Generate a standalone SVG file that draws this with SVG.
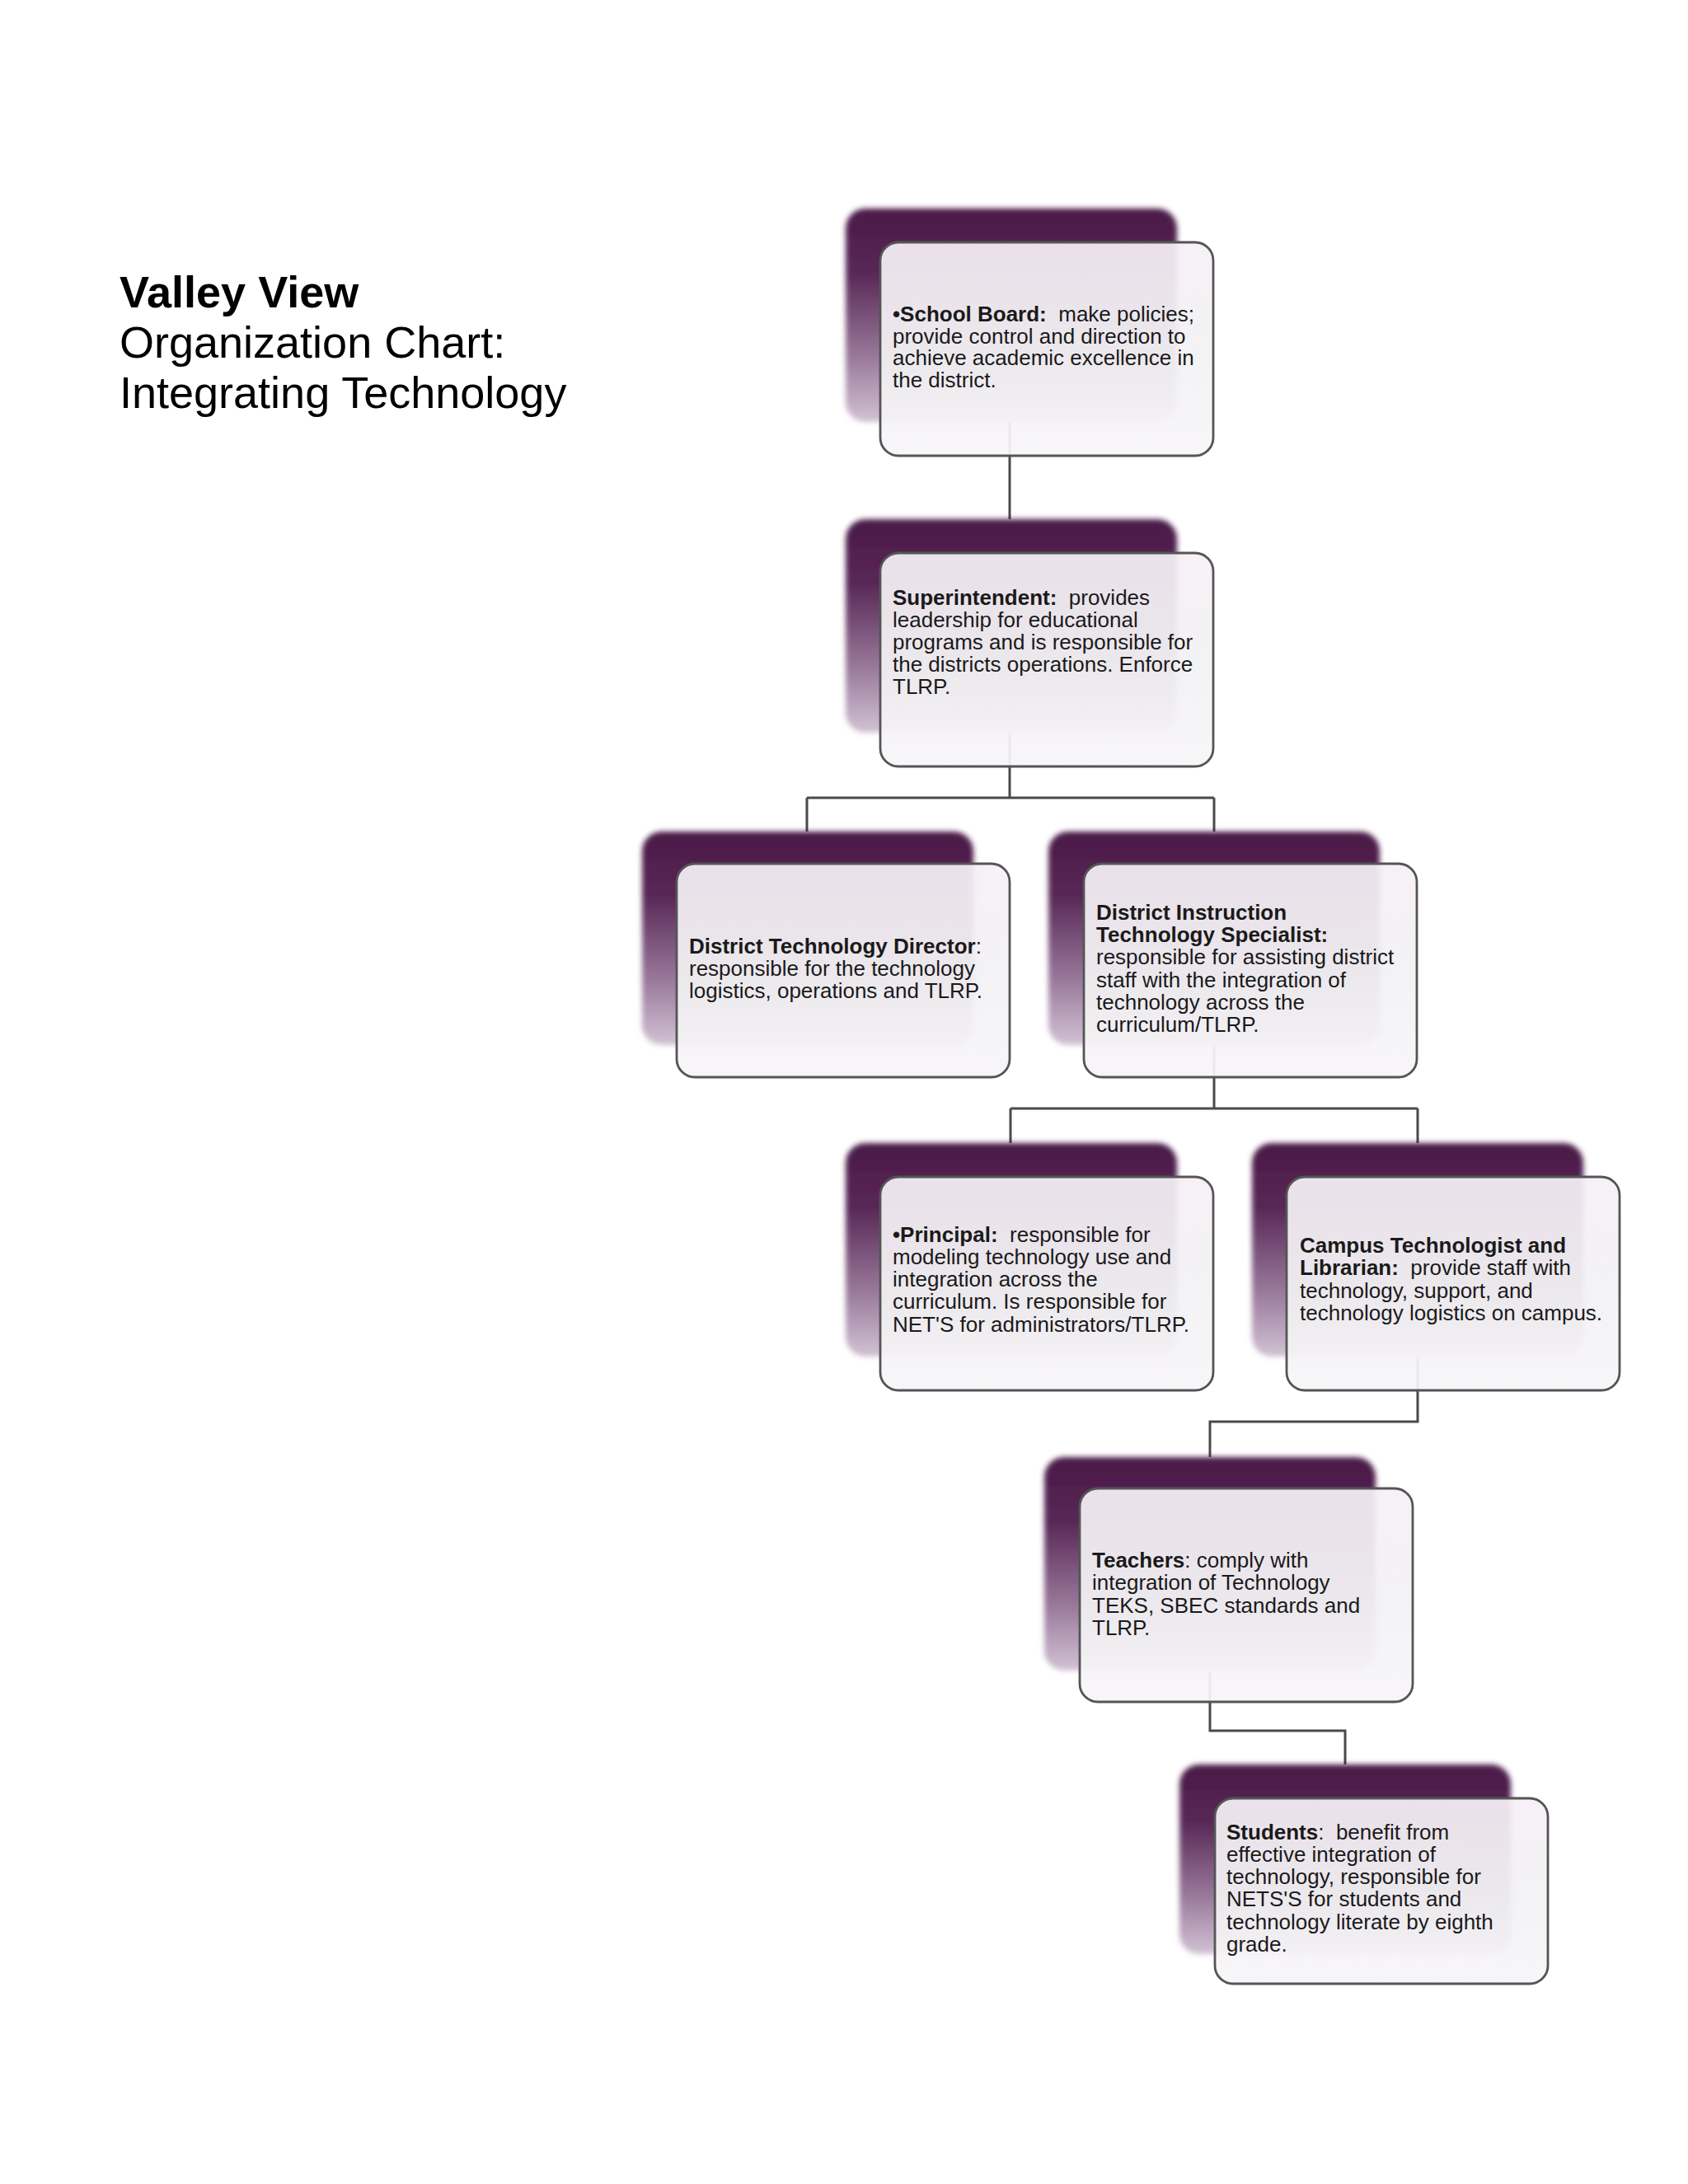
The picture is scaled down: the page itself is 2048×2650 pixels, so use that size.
<svg xmlns="http://www.w3.org/2000/svg" width="2048" height="2650" viewBox="0 0 2048 2650">
<defs>
<linearGradient id="backGrad" x1="0" y1="0" x2="0" y2="1">
<stop offset="0" stop-color="#4a1947"/>
<stop offset="0.3" stop-color="#582856"/>
<stop offset="0.7" stop-color="#9a7a9c"/>
<stop offset="1" stop-color="#d2c2d4"/>
</linearGradient>
<linearGradient id="frontGrad" x1="0" y1="0" x2="0" y2="1">
<stop offset="0" stop-color="#f6f0f6"/>
<stop offset="0.5" stop-color="#f2f1f3"/>
<stop offset="1" stop-color="#f7f5f8"/>
</linearGradient>
<filter id="soft" x="-10%" y="-10%" width="120%" height="120%">
<feGaussianBlur stdDeviation="3"/>
</filter>
</defs>
<style>
.back{fill:url(#backGrad);filter:url(#soft)}
.front{fill:url(#frontGrad);fill-opacity:0.93;stroke:#555555;stroke-width:2.8}
.t{font-family:"Liberation Sans",Arial,sans-serif;font-size:26px;fill:#1a1a1a;white-space:pre}
.b{font-weight:bold}
.title{font-family:"Liberation Sans",Arial,sans-serif;font-size:54px;fill:#000}
.conn{fill:none;stroke:#4a4a4a;stroke-width:3}
</style>
<rect width="2048" height="2650" fill="#ffffff"/>

<g id="title">
<text class="title" x="145" y="373" font-weight="bold">Valley View</text>
<text class="title" x="145" y="434">Organization Chart:</text>
<text class="title" x="145" y="495">Integrating Technology</text>
</g>

<g id="connectors">
<path class="conn" d="M1225 512 V630"/>
<path class="conn" d="M1225 889 V968 M979 968 H1473 M979 968 V1009 M1473 968 V1009"/>
<path class="conn" d="M1473 1268 V1345 M1226 1345 H1720 M1226 1345 V1387 M1720 1345 V1387"/>
<path class="conn" d="M1720 1646 V1725 H1468 V1768"/>
<path class="conn" d="M1468 2027 V2100 H1632 V2141"/>
</g>

<g id="school-board">
<rect class="back" x="1026" y="253" width="402" height="259" rx="24"/>
<rect class="front" x="1068" y="294" width="404" height="259" rx="22"/>
<text class="t" x="1083" y="390"><tspan class="b">•School Board:</tspan>  make policies;</text>
<text class="t" x="1083" y="417">provide control and direction to</text>
<text class="t" x="1083" y="443">achieve academic excellence in</text>
<text class="t" x="1083" y="470">the district.</text>
</g>

<g id="superintendent">
<rect class="back" x="1026" y="630" width="402" height="259" rx="24"/>
<rect class="front" x="1068" y="671" width="404" height="259" rx="22"/>
<text class="t" x="1083" y="734"><tspan class="b">Superintendent:</tspan>  provides</text>
<text class="t" x="1083" y="761">leadership for educational</text>
<text class="t" x="1083" y="788">programs and is responsible for</text>
<text class="t" x="1083" y="815">the districts operations. Enforce</text>
<text class="t" x="1083" y="842">TLRP.</text>
</g>

<g id="district-technology-director">
<rect class="back" x="779" y="1009" width="402" height="259" rx="24"/>
<rect class="front" x="821" y="1048" width="404" height="259" rx="22"/>
<text class="t" x="836" y="1157"><tspan class="b">District Technology Director</tspan>:</text>
<text class="t" x="836" y="1184">responsible for the technology</text>
<text class="t" x="836" y="1211">logistics, operations and TLRP.</text>
</g>

<g id="district-instruction-technology-specialist">
<rect class="back" x="1272" y="1009" width="402" height="259" rx="24"/>
<rect class="front" x="1315" y="1048" width="404" height="259" rx="22"/>
<text class="t b" x="1330" y="1116">District Instruction</text>
<text class="t b" x="1330" y="1143">Technology Specialist:</text>
<text class="t" x="1330" y="1170">responsible for assisting district</text>
<text class="t" x="1330" y="1198">staff with the integration of</text>
<text class="t" x="1330" y="1225">technology across the</text>
<text class="t" x="1330" y="1252">curriculum/TLRP.</text>
</g>

<g id="principal">
<rect class="back" x="1026" y="1387" width="402" height="259" rx="24"/>
<rect class="front" x="1068" y="1428" width="404" height="259" rx="22"/>
<text class="t" x="1083" y="1507"><tspan class="b">•Principal:</tspan>  responsible for</text>
<text class="t" x="1083" y="1534">modeling technology use and</text>
<text class="t" x="1083" y="1561">integration across the</text>
<text class="t" x="1083" y="1588">curriculum. Is responsible for</text>
<text class="t" x="1083" y="1616">NET'S for administrators/TLRP.</text>
</g>

<g id="campus-technologist-librarian">
<rect class="back" x="1519" y="1387" width="402" height="259" rx="24"/>
<rect class="front" x="1561" y="1428" width="404" height="259" rx="22"/>
<text class="t b" x="1577" y="1520">Campus Technologist and</text>
<text class="t" x="1577" y="1547"><tspan class="b">Librarian:</tspan>  provide staff with</text>
<text class="t" x="1577" y="1575">technology, support, and</text>
<text class="t" x="1577" y="1602">technology logistics on campus.</text>
</g>

<g id="teachers">
<rect class="back" x="1267" y="1768" width="402" height="259" rx="24"/>
<rect class="front" x="1310" y="1806" width="404" height="259" rx="22"/>
<text class="t" x="1325" y="1902"><tspan class="b">Teachers</tspan>: comply with</text>
<text class="t" x="1325" y="1929">integration of Technology</text>
<text class="t" x="1325" y="1957">TEKS, SBEC standards and</text>
<text class="t" x="1325" y="1984">TLRP.</text>
</g>

<g id="students">
<rect class="back" x="1431" y="2141" width="402" height="230" rx="24"/>
<rect class="front" x="1474" y="2182" width="404" height="225" rx="22"/>
<text class="t" x="1488" y="2232"><tspan class="b">Students</tspan>:  benefit from</text>
<text class="t" x="1488" y="2259">effective integration of</text>
<text class="t" x="1488" y="2286">technology, responsible for</text>
<text class="t" x="1488" y="2313">NETS'S for students and</text>
<text class="t" x="1488" y="2341">technology literate by eighth</text>
<text class="t" x="1488" y="2368">grade.</text>
</g>
</svg>
